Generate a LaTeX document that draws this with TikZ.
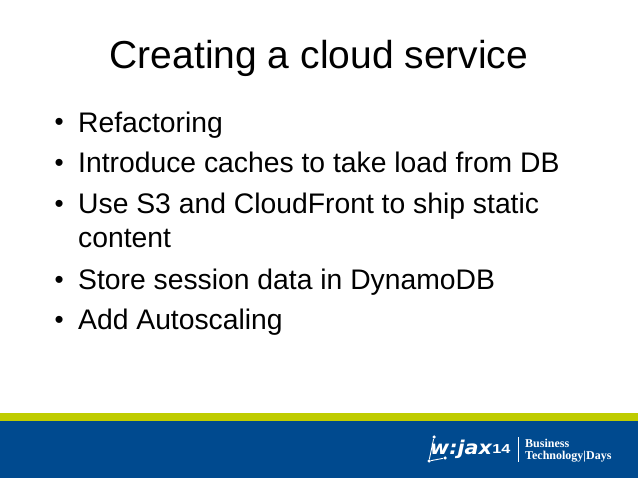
\documentclass[tikz,border=0pt]{standalone}
\usepackage{fontspec}
\setmainfont{Liberation Sans}
\newfontfamily\serifb{Liberation Serif}
\newfontfamily\logofont{DejaVu Sans}
\definecolor{barblue}{HTML}{004A8F}
\definecolor{barlime}{HTML}{BFCC00}
\begin{document}
\begin{tikzpicture}[x=1pt,y=-1pt,
 bul/.style={anchor=base west,font=\fontsize{28.3}{30}\selectfont,inner sep=0pt,text=black},
 bdot/.style={anchor=base west,font=\fontsize{26}{28}\selectfont,inner sep=0pt,text=black},
 logo/.style={anchor=base west,inner sep=0pt,text=white},
 dot/.style={circle,fill=white,inner sep=0pt,minimum size=3.5pt}]
\useasboundingbox (0,0) rectangle (638,478);
\fill[white] (0,0) rectangle (638,478);
\fill[barlime] (0,413) rectangle (638,421);
\fill[barblue] (0,421) rectangle (638,478);
\node[anchor=base,inner sep=0pt,font=\fontsize{39}{42}\selectfont] (title) at (319,69) {Creating a cloud service};
\node[bdot] (b1) at (54.5,131) {•};
\node[bul] (t1) at (78,133) {Refactoring};
\node[bdot] (b2) at (54.5,172) {•};
\node[bul] (t2) at (78,173) {Introduce caches to take load from DB};
\node[bdot] (b3) at (54.5,213) {•};
\node[bul] (t3) at (78,214) {Use S3 and CloudFront to ship static};
\node[bul] (t3b) at (78,248) {content};
\node[bdot] (b4) at (54.5,289) {•};
\node[bul] (t4) at (78,290) {Store session data in DynamoDB};
\node[bdot] (b5) at (54.5,329) {•};
\node[bul] (t5) at (78,330) {Add Autoscaling};
\node[logo,xscale=1.09,font=\logofont\bfseries\itshape\fontsize{19}{19}\selectfont] (lg) at (430,455) {w:jax};
\node[logo,xscale=1.25,font=\bfseries\fontsize{13}{13}\selectfont] (yr) at (492,454) {14};
\node[dot] (d1) at (434,437) {};
\node[dot] (d2) at (429,461) {};
\node[dot] (d3) at (445,458) {};
\draw[white,line width=0.9pt] (d1) -- (d2) -- (d3);
\draw[white,line width=0.7pt] (518,437) -- (518,462);
\node[logo,font=\serifb\bfseries\fontsize{12}{12}\selectfont] (bz) at (525,448) {Business};
\node[logo,font=\serifb\bfseries\fontsize{12}{12}\selectfont] (td) at (525,460) {Technology|Days};
\end{tikzpicture}
\end{document}
